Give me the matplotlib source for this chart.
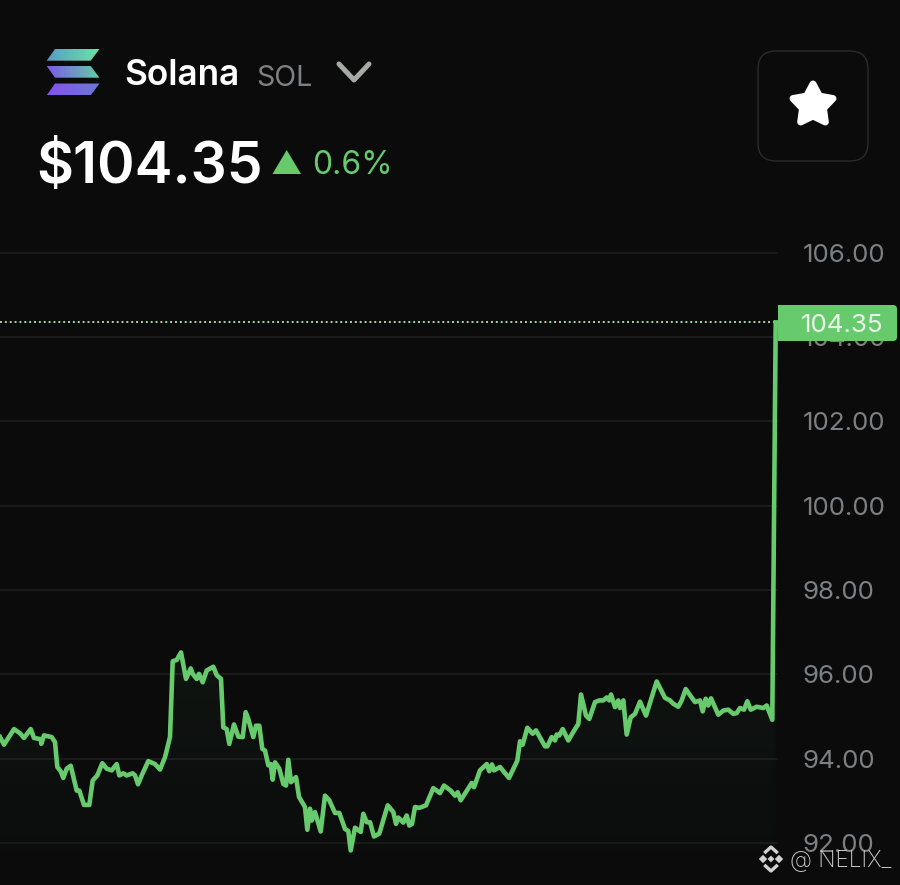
import numpy as np
import matplotlib
matplotlib.use("Agg")
import matplotlib.pyplot as plt
from matplotlib.patches import Polygon, FancyBboxPatch, PathPatch
from matplotlib.path import Path

# values
time_pos = [0, 4, 8.3, 14, 20, 24, 30.7, 34, 40.7, 41.3, 44, 51.7, 55, 57.3, 60.7, 63.3, 66.7, 70.7, 76.7, 79.3,
            84, 89.3, 92.7, 97.3, 102.3, 106.7, 111.7, 116.7, 119.3, 123.3, 126.7, 132.7, 135, 138, 141.7, 148.3, 155, 160, 165, 170,
            172.7, 176.7, 181, 186, 190.7, 192.7, 196.7, 199, 202.7, 206.7, 213.3, 216.7, 221, 223.3, 226.7, 229.3, 234, 238.3, 242.7, 245.7,
            248.3, 253.3, 256, 259.3, 262.3, 265, 268.3, 270.7, 272.7, 275, 279.3, 283.3, 286, 288.3, 291, 296, 299, 305, 307.3, 310,
            311.7, 315, 320.7, 325, 329.3, 335, 339.3, 345, 348.3, 350.7, 355, 360.7, 363.3, 366.7, 370, 374, 379.3, 387.7, 393.3, 396,
            398.3, 403.3, 406.7, 409.3, 412, 415, 419.3, 426, 433.3, 440, 444, 450.7, 455, 457.7, 460.7, 471.7, 474, 480, 486.7, 489.3,
            492, 494, 500, 509, 517.3, 520, 522.7, 527.3, 532.7, 536, 545, 547.3, 551.7, 555, 556.7, 559.3, 562.7, 568.3, 575, 578.3,
            581, 586, 589.3, 595, 599.3, 603.3, 606.7, 609.3, 611, 615, 618.3, 620, 623.3, 626.7, 630.7, 635, 640, 646, 656.7, 665,
            670, 673.3, 678.3, 681.7, 685.7, 691.7, 695, 700, 702.7, 705.7, 708.3, 711, 718.3, 723.3, 728.3, 733.3, 736.7, 740, 744, 747.3,
            750.7, 756.7, 763.3, 766.7, 772.3, 775.7]
price = [94.51, 94.33, 94.49, 94.70, 94.60, 94.49, 94.70, 94.49, 94.46, 94.35, 94.55, 94.51, 94.39, 93.80, 93.70, 93.54, 93.76, 93.83, 93.24, 93.24,
         92.90, 92.90, 93.48, 93.60, 93.89, 93.76, 93.72, 93.87, 93.60, 93.65, 93.60, 93.65, 93.60, 93.39, 93.60, 93.94, 93.87, 93.74, 94.03, 94.51,
         96.31, 96.34, 96.52, 95.89, 96.14, 96.01, 95.89, 96.01, 95.81, 96.09, 96.18, 95.98, 95.89, 94.74, 94.70, 94.35, 94.81, 94.52, 94.51, 95.10,
         94.94, 94.51, 94.78, 94.78, 94.23, 94.19, 93.84, 93.87, 93.50, 93.91, 93.76, 93.40, 93.36, 93.97, 93.44, 93.56, 93.09, 92.85, 92.31, 92.81,
         92.53, 92.73, 92.27, 93.12, 93.01, 92.71, 92.71, 92.33, 92.28, 91.82, 92.36, 92.26, 92.69, 92.49, 92.49, 92.15, 92.22, 92.89, 92.73, 92.45,
         92.60, 92.48, 92.65, 92.41, 92.45, 92.85, 92.83, 92.89, 93.30, 93.18, 93.36, 93.24, 93.12, 93.20, 93.01, 93.42, 93.32, 93.72, 93.87, 93.70,
         93.86, 93.72, 93.80, 93.54, 93.95, 94.41, 94.33, 94.73, 94.59, 94.67, 94.29, 94.29, 94.51, 94.43, 94.57, 94.55, 94.70, 94.43, 94.70, 94.82,
         95.52, 95.02, 94.94, 95.34, 95.38, 95.38, 95.45, 95.38, 95.52, 95.22, 95.38, 95.20, 95.38, 94.57, 94.98, 95.06, 95.35, 95.02, 95.83, 95.44,
         95.38, 95.30, 95.23, 95.38, 95.65, 95.45, 95.34, 95.38, 95.12, 95.42, 95.26, 95.43, 95.04, 95.14, 95.16, 95.06, 95.08, 95.20, 95.16, 95.36,
         95.16, 95.23, 95.20, 95.26, 94.92, 104.35]
y_ticks = [92, 94, 96, 98, 100, 102, 104, 106]
last_price = 104.35

BG = "#0b0b0c"
GREEN = "#67cb6e"
plt.rcParams["font.family"] = ["Inter", "DejaVu Sans"]

fig = plt.figure(figsize=(9, 8.85), dpi=100, facecolor=BG)

# main chart, stops where the price scale starts
ax = fig.add_axes([0, 0, 778 / 900, 1], facecolor=BG)
ax.set_xlim(0, 778)
ax.set_ylim(91.0, 112.0)
ax.set_yticks(y_ticks)
ax.set_yticklabels([f"{v:.2f}" for v in y_ticks])
ax.set_xticks([])
ax.yaxis.tick_right()
ax.tick_params(axis="y", length=0, pad=17.5, labelsize=18.7, labelcolor="#7d7f80")
ax.grid(axis="y", color="#1e1f1f", lw=1.1)
ax.set_axisbelow(True)
for s in ax.spines.values():
    s.set_visible(False)

# faint green under the line
under = ax.fill_between(time_pos, price, 91.0, color="none")
grad = np.zeros((256, 2, 4))
grad[..., 0], grad[..., 1], grad[..., 2] = 0.40, 0.80, 0.43
grad[..., 3] = np.linspace(0.055, 0.0, 256)[:, None]
img = ax.imshow(grad, extent=[0, 778, 91.0, 96.6], aspect="auto", zorder=1, origin="upper")
img.set_clip_path(under.get_paths()[0], transform=ax.transData)
ax.set_xlim(0, 778)
ax.set_ylim(91.0, 112.0)

ax.axhline(last_price, color="#9fdca3", lw=1.4, ls=(0, (1, 1.5)), zorder=2)
ax.plot(time_pos, price, color=GREEN, lw=3.3, solid_joinstyle="round", zorder=3)

# overlay in screen pixels for the app header and badges
ov = fig.add_axes([0, 0, 1, 1], facecolor="none", zorder=5)
ov.set_xlim(0, 900)
ov.set_ylim(885, 0)
ov.axis("off")


def grad_bar(pts, left, right):
    xs = [p[0] for p in pts]
    ys = [p[1] for p in pts]
    c = np.zeros((2, 64, 3))
    c[:, :, :] = np.linspace(matplotlib.colors.to_rgb(left), matplotlib.colors.to_rgb(right), 64)[None, :, :]
    im = ov.imshow(c, extent=[min(xs), max(xs), max(ys), min(ys)], aspect="auto", zorder=6)
    im.set_clip_path(Polygon(pts, transform=ov.transData))


grad_bar([(55, 49), (99.5, 49), (90.7, 60.7), (46.7, 60.7)], "#5a9cc4", "#6be3a6")
grad_bar([(46.7, 66), (90.7, 66), (99.5, 77.7), (55, 77.7)], "#7b5be6", "#5fd0a6")
grad_bar([(55, 83.5), (99.5, 83.5), (90.7, 95.3), (46.7, 95.3)], "#8652ea", "#6a78d6")
ov.set_xlim(0, 900)
ov.set_ylim(885, 0)

ov.text(124, 85, "Solana", color="white", fontsize=25.3, fontweight="semibold", va="baseline")
ov.text(256, 85.5, "SOL", color="#808182", fontsize=20.5, va="baseline")
ov.plot([339, 354, 369], [64, 80, 64], color="#a5aaa6", lw=3.6, solid_capstyle="round", solid_joinstyle="round")

ov.text(36, 183, "$104.35", color="white", fontsize=41, fontweight="semibold", va="baseline")
ov.add_patch(Polygon([(272.5, 174), (301, 174), (286.7, 150)], closed=True, fc=GREEN, ec="none"))
ov.text(312, 174.5, "0.6%", color=GREEN, fontsize=23, va="baseline")

# favourite button
ov.add_patch(FancyBboxPatch((776, 69), 74, 74, boxstyle="round,pad=18,rounding_size=18",
                            fc=BG, ec="#2a2b2c", lw=1))
star_ang = np.deg2rad(-90 + 36 * np.arange(10))
star_r = np.where(np.arange(10) % 2 == 0, 21, 11)
star = np.c_[813 + star_r * np.cos(star_ang), 105 + star_r * np.sin(star_ang)]
ov.add_patch(Polygon(star, closed=True, fc="white", ec="white", lw=5, joinstyle="round"))

# last price badge, covers the 104.00 tick label partly
badge = Path([(778, 305), (893, 305), (897, 305), (897, 309), (897, 337), (897, 341), (893, 341), (778, 341), (778, 305)],
             [Path.MOVETO, Path.LINETO, Path.CURVE3, Path.CURVE3, Path.LINETO, Path.CURVE3, Path.CURVE3, Path.LINETO, Path.CLOSEPOLY])
ov.add_patch(PathPatch(badge, fc=GREEN, ec="none"))
ov.text(801, 323, f"{last_price:.2f}", color="#eaf6ea", fontsize=18.7, va="center_baseline")

# watermark, the exchange mark and handle
for cx, cy, r in [(763, 859, 4.2), (779, 859, 4.2), (771, 859, 3.4)]:
    ov.add_patch(Polygon([(cx, cy - r), (cx + r, cy), (cx, cy + r), (cx - r, cy)], closed=True, fc="#d2d2d2", ec="none"))
ov.plot([765.5, 771, 776.5], [852, 847, 852], color="#d2d2d2", lw=2.4)
ov.plot([765.5, 771, 776.5], [866, 871, 866], color="#d2d2d2", lw=2.4)
ov.text(790.5, 867, "@ NELIX_", color="#c9c9c9", fontsize=16.2, fontweight="light", va="baseline")

fig.savefig("out.png", dpi=100, facecolor=BG)
